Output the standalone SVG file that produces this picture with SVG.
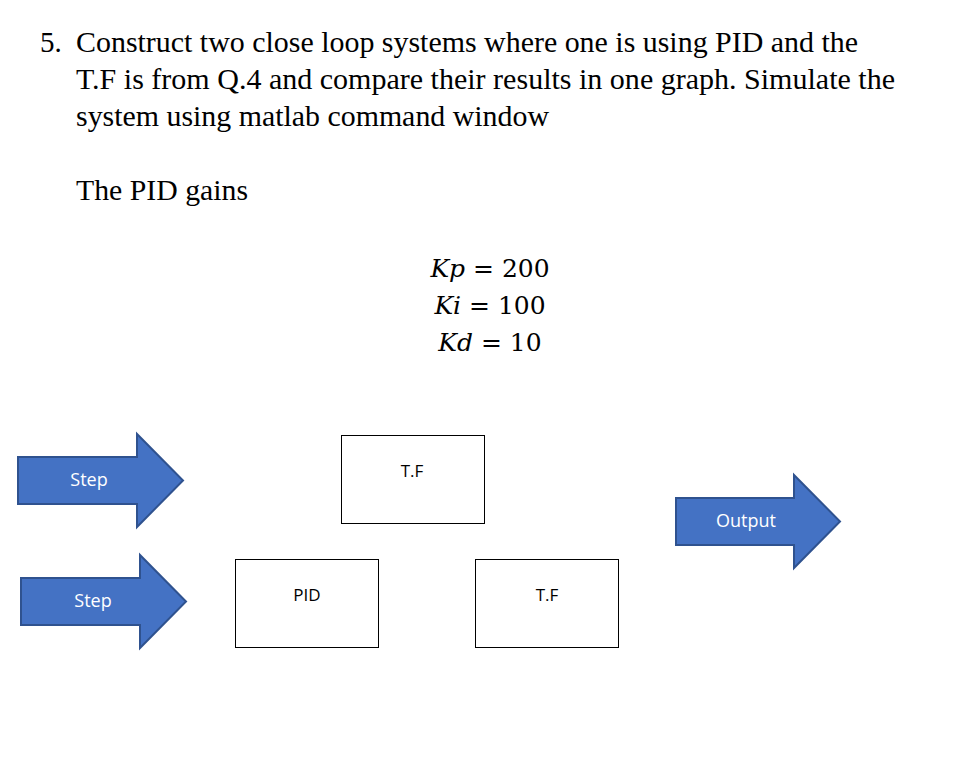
<svg xmlns="http://www.w3.org/2000/svg" width="954" height="772" viewBox="0 0 954 772">
<style>
.t{font-family:"Liberation Serif",serif;font-size:29px;fill:#000}
.m{font-family:"DejaVu Serif","Liberation Serif",serif;font-size:25px;fill:#000;text-anchor:middle}
.arr{fill:#4472C4;stroke:#2F528F;stroke-width:2}
.al{font-family:"Open Sans","Liberation Sans",sans-serif;font-size:18px;fill:#fff;text-anchor:middle}
.box{fill:#fff;stroke:#000;stroke-width:1}
.bl{font-family:"Open Sans","Liberation Sans",sans-serif;font-size:17px;fill:#000;text-anchor:middle}
</style>
<rect width="954" height="772" fill="#fff"/>
<text class="t" x="40" y="52">5.</text>
<text class="t" x="76" y="52" textLength="782" lengthAdjust="spacingAndGlyphs">Construct two close loop systems where one is using PID and the</text>
<text class="t" x="76" y="89" textLength="819" lengthAdjust="spacingAndGlyphs">T.F is from Q.4 and compare their results in one graph. Simulate the</text>
<text class="t" x="76" y="126" textLength="473" lengthAdjust="spacingAndGlyphs">system using matlab command window</text>
<text class="t" x="76" y="200" textLength="172" lengthAdjust="spacingAndGlyphs">The PID gains</text>
<text class="m" x="490" y="277"><tspan font-style="italic">Kp</tspan> = 200</text>
<text class="m" x="490" y="314"><tspan font-style="italic">Ki</tspan> = 100</text>
<text class="m" x="490" y="351"><tspan font-style="italic">Kd</tspan> = 10</text>
<g id="step1"><path class="arr" d="M18,457H137V434L183,480.5L137,527V504H18Z"/><text class="al" x="89" y="486">Step</text></g>
<g id="step2"><path class="arr" d="M21,578H140V555L186,601.5L140,648V625H21Z"/><text class="al" x="93" y="607">Step</text></g>
<g id="output"><path class="arr" d="M676,498H794V475L840,521.5L794,568V545H676Z"/><text class="al" x="746" y="527">Output</text></g>
<g id="tf1"><rect class="box" x="341.5" y="435.5" width="143" height="88"/><text class="bl" x="412" y="477">T.F</text></g>
<g id="pid"><rect class="box" x="235.5" y="559.5" width="143" height="88"/><text class="bl" x="307" y="601">PID</text></g>
<g id="tf2"><rect class="box" x="475.5" y="559.5" width="143" height="88"/><text class="bl" x="547" y="601">T.F</text></g>
<g id="connectors"/>
</svg>
